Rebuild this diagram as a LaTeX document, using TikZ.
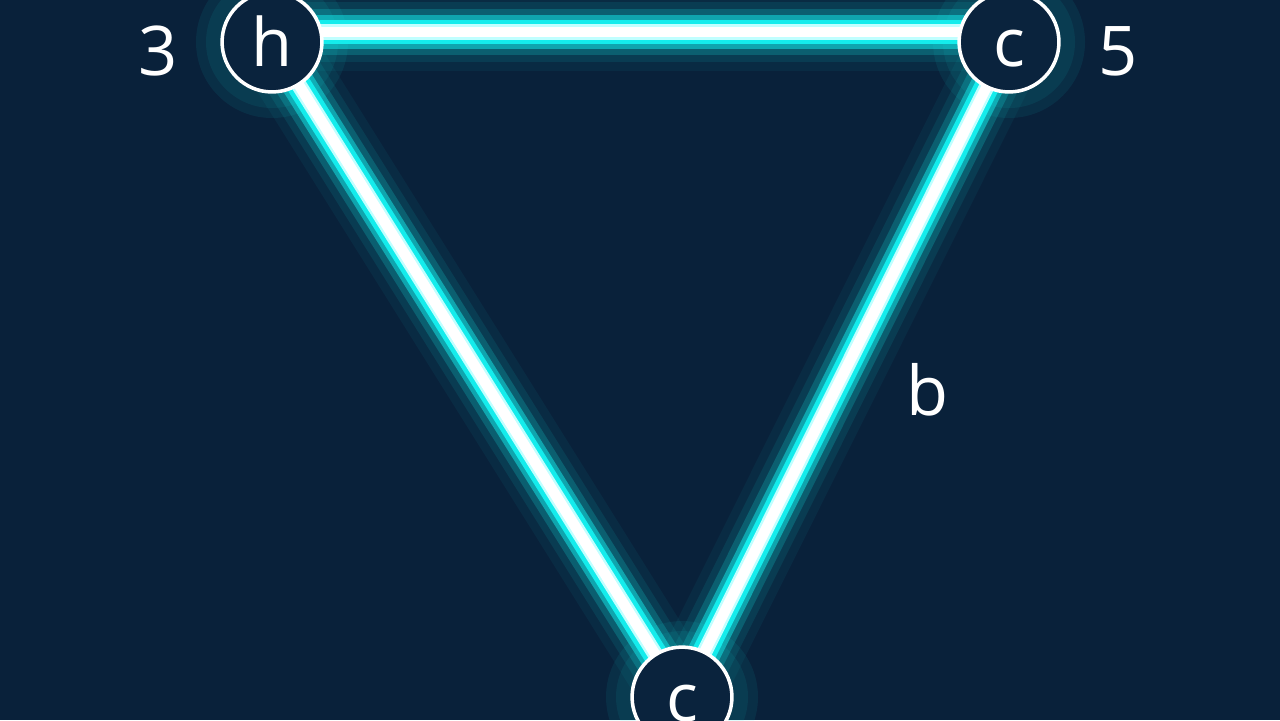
\documentclass[tikz,border=0pt]{standalone}
\usepackage{fontspec}
\setmainfont{Open Sans}
\usetikzlibrary{backgrounds}
\definecolor{bgnavy}{HTML}{09213A}
\definecolor{nodefill}{HTML}{0A233D}
\definecolor{glowcyan}{HTML}{14ECEC}
\definecolor{corecyan}{HTML}{C0FFFF}
\tikzset{
  vert/.style={circle, draw=white, line width=1pt, fill=nodefill, minimum size=28.4pt, inner sep=0pt, text=white, font=\fontsize{19}{19}\selectfont, text height=13.7pt, text depth=0pt},
  lbl/.style={text=white, font=\fontsize{19.5}{19.5}\selectfont},
  glowA/.style={line width=22pt, draw=glowcyan, draw opacity=0.05, line cap=round},
  glowB/.style={line width=17pt, draw=glowcyan, draw opacity=0.09, line cap=round},
  glowC/.style={line width=13pt, draw=glowcyan, draw opacity=0.2, line cap=round},
  glowD/.style={line width=9.5pt, draw=glowcyan, draw opacity=0.5, line cap=round},
  glowE/.style={line width=7pt, draw=glowcyan, line cap=round},
  glowF/.style={line width=4.4pt, draw=corecyan, line cap=round},
  glowG/.style={line width=3pt, draw=white, line cap=round},
  halo/.style={fill=glowcyan, fill opacity=0.07}
}
\begin{document}
\begin{tikzpicture}[x=0.01cm,y=-0.01cm]
\useasboundingbox (0,0) rectangle (1280,720);
\node[vert] (h) at (272,42) {h};
\node[vert] (c1) at (1009,42) {c};
\node[vert] (c2) at (682,697) {c};
\node[lbl] (l3) at (158,51) {3};
\node[lbl] (l5) at (1118,51) {5};
\node[lbl] (lb) at (927,390) {b};
\begin{scope}[on background layer]
  \fill[bgnavy] (0,0) rectangle (1280,720);
  \foreach \n in {h,c1,c2}{
    \fill[halo] (\n.center) circle (76);
    \fill[halo] (\n.center) circle (66);
  }
  \foreach \s in {glowA,glowB,glowC,glowD,glowE,glowF,glowG}{
    \draw[\s] ([yshift=2.85pt]h.center) -- ([yshift=2.85pt]c1.center);
    \draw[\s] (h.center) -- (c2.center);
    \draw[\s] (c1.center) -- (c2.center);
  }
\end{scope}
\end{tikzpicture}
\end{document}
